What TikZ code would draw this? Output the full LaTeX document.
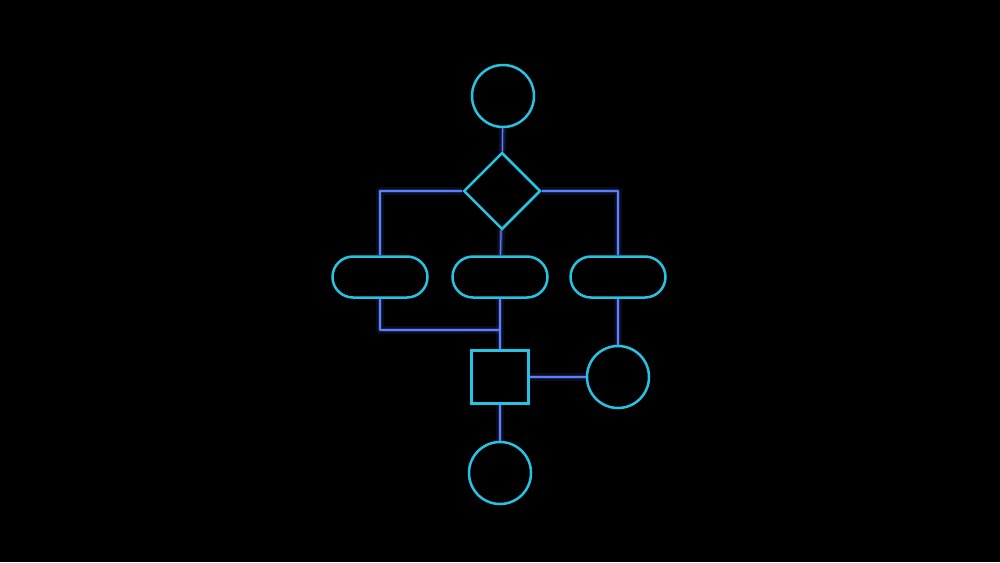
\documentclass[tikz,border=0pt]{standalone}
\usepackage{tikz}
\usetikzlibrary{arrows}
\usetikzlibrary{positioning}
\usetikzlibrary{shapes.geometric}

\definecolor{flowcyan}{RGB}{38,196,228}
\definecolor{linkblue}{RGB}{95,125,255}

\begin{document}
\begin{tikzpicture}
			[x=0.2mm,y=-0.2mm,
			every node/.style={draw=flowcyan,line width=0.5mm,inner sep=0pt},
			circ/.style={circle,minimum size=12.4mm},
			term/.style={rectangle,rounded corners=4.1mm,minimum width=19mm,minimum height=8.2mm},
			dec/.style={diamond,minimum width=15.4mm,minimum height=15.4mm},
			proc/.style={rectangle,minimum width=11.4mm,minimum height=10.6mm},
			link/.style={draw=linkblue,line width=0.25mm,line join=round,
				preaction={draw=linkblue,line width=1.6mm,opacity=0.1,line join=round},
				preaction={draw=linkblue,line width=0.8mm,opacity=0.2,line join=round}}]
			\fill[black] (0,0) rectangle (1000,562);
			\useasboundingbox (0,0) rectangle (1000,562);
			
			\coordinate (j) at (500,330);
			\node[circ] (start) at (503,96) {};
			\node[dec] (dec) at (502,191) {};
			\node[term] (tl) at (380,277) {};
			\node[term] (tm) at (500,277) {};
			\node[term] (tr) at (618,277) {};
			\node[proc] (box) at (500,377) {};
			\node[circ] (cr) at (618,377) {};
			\node[circ] (stop) at (500,473) {};
			
			\draw[link] (dec.west) -| (tl.north);
			\draw[link] (dec.east) -| (tr.north);
			\draw[link] (tl.south) |- (j);
			\foreach \from/\to in
			{start/dec, dec/tm, tm/box, tr/cr, box/cr, box/stop}
			\draw[link] (\from) -- (\to);
			\end{tikzpicture}
\end{document}
